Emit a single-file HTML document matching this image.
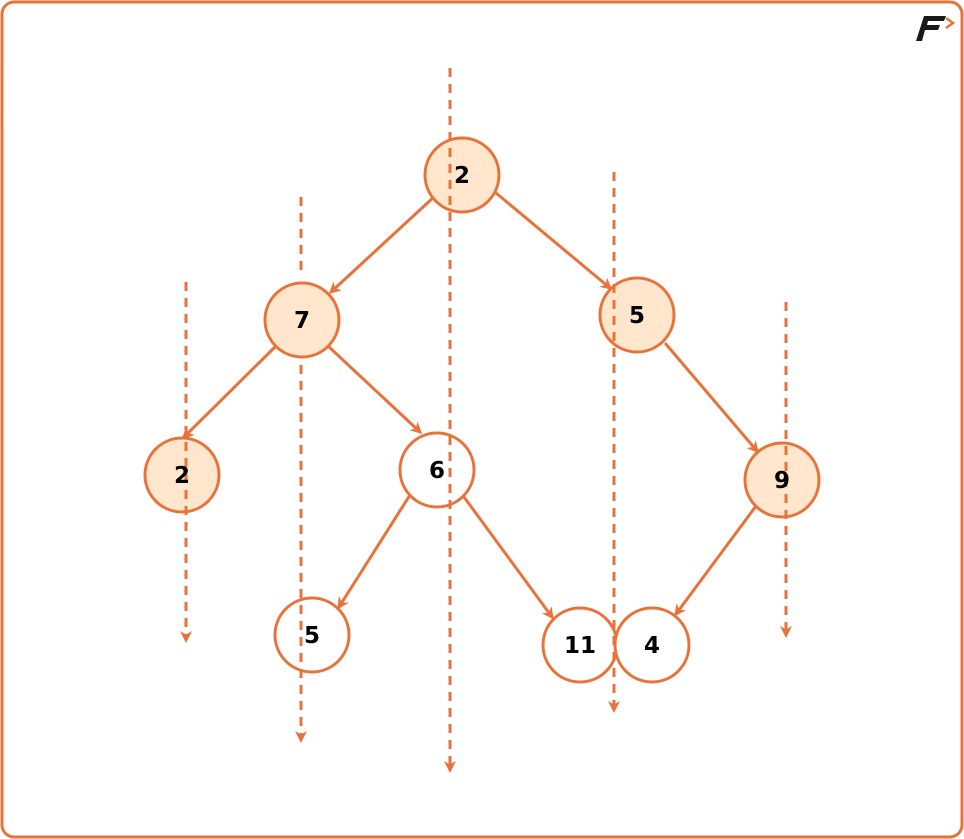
<!DOCTYPE html>
<html><head><style>
html,body{margin:0;padding:0;background:#fff;}
svg{display:block;}
text{font-family:"DejaVu Sans","Liberation Sans",sans-serif;font-weight:bold;font-size:23px;fill:#000;text-anchor:middle;dominant-baseline:central;}
</style></head><body>
<svg width="964" height="839" viewBox="0 0 964 839" xmlns="http://www.w3.org/2000/svg">
<defs>
<marker id="a" markerWidth="12" markerHeight="12" refX="9" refY="6" orient="auto" markerUnits="userSpaceOnUse">
<path d="M0,0 L12,6 L0,12 L3.5,6 Z" fill="#E8733A"/>
</marker>
</defs>
<rect x="2" y="2" width="960" height="835" rx="12" fill="#fff" stroke="#E8733A" stroke-width="3"/>
<path d="M924 16 L946 16 L944 21 L928 21 L927 25 L940 25 L938 30 L925 30 L922 41 L916 41 Z" fill="#1a1a1a"/>
<path d="M946 18 L953 23 L946 28" fill="none" stroke="#E8733A" stroke-width="2.5"/>
<g stroke="#E8733A" stroke-width="3" fill="none" marker-end="url(#a)">
<line x1="435" y1="196" x2="331" y2="292"/>
<line x1="490" y1="188" x2="610" y2="288"/>
<line x1="276" y1="346" x2="184" y2="437"/>
<line x1="329" y1="347" x2="420" y2="432"/>
<line x1="665" y1="343" x2="757" y2="451"/>
<line x1="410" y1="495" x2="339" y2="607"/>
<line x1="464" y1="497" x2="552" y2="617"/>
<line x1="756" y1="506" x2="676" y2="614"/>
</g>
<g stroke="#E8733A" stroke-width="3">
<circle cx="462" cy="175" r="37" fill="#FFE6CC"/>
<circle cx="302" cy="320" r="37" fill="#FFE6CC"/>
<circle cx="637" cy="315" r="37" fill="#FFE6CC"/>
<circle cx="182" cy="475" r="37" fill="#FFE6CC"/>
<circle cx="437" cy="470" r="37" fill="#fff"/>
<circle cx="782" cy="480" r="37" fill="#FFE6CC"/>
<circle cx="312" cy="635" r="37" fill="#fff"/>
<circle cx="580" cy="645" r="37" fill="#fff"/>
<circle cx="652" cy="645" r="37" fill="#fff"/>
</g>
<g stroke="#E8733A" stroke-width="3" stroke-dasharray="9 7" fill="none" marker-end="url(#a)">
<line x1="186" y1="282" x2="186" y2="640"/>
<line x1="301" y1="365" x2="301" y2="740"/>
<line x1="450" y1="68" x2="450" y2="770"/>
<line x1="614" y1="172" x2="614" y2="710"/>
<line x1="786" y1="302" x2="786" y2="635"/>
</g>
<line x1="301" y1="197" x2="301" y2="272" stroke="#E8733A" stroke-width="3" stroke-dasharray="9 7"/>
<text x="462" y="176">2</text>
<text x="302" y="321">7</text>
<text x="637" y="316">5</text>
<text x="182" y="476">2</text>
<text x="437" y="471">6</text>
<text x="782" y="481">9</text>
<text x="312" y="636">5</text>
<text x="580" y="646">11</text>
<text x="652" y="646">4</text>
</svg>
</body></html>
